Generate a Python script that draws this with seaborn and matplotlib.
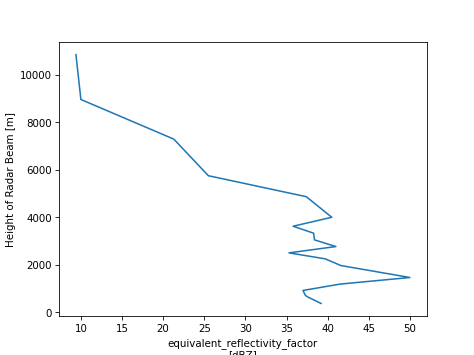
import matplotlib
matplotlib.use("Agg")
import matplotlib.pyplot as plt
import seaborn as sns
import pandas as pd

reflectivity = [9.4, 10.0, 21.3, 25.5, 37.4, 40.5, 35.8, 38.3, 38.4, 41.0,
                35.3, 39.7, 41.6, 50.0, 41.5, 37.0, 37.3, 37.6, 39.2]
height = [10840, 8950, 7280, 5740, 4857, 3990, 3613, 3319, 3038, 2757,
          2491, 2240, 1958, 1454, 1176, 908, 700, 630, 361]

df = pd.DataFrame({"x": reflectivity, "y": height})

fig, ax = plt.subplots(figsize=(6.4, 4.8), dpi=74.0625)
sns.lineplot(data=df, x="x", y="y", sort=False, estimator=None, ax=ax, color="#1f77b4")
ax.set_xlabel("equivalent_reflectivity_factor\n[dBZ]")
ax.set_ylabel("Height of Radar Beam [m]")
fig.savefig("out.png", dpi=74.0625)
